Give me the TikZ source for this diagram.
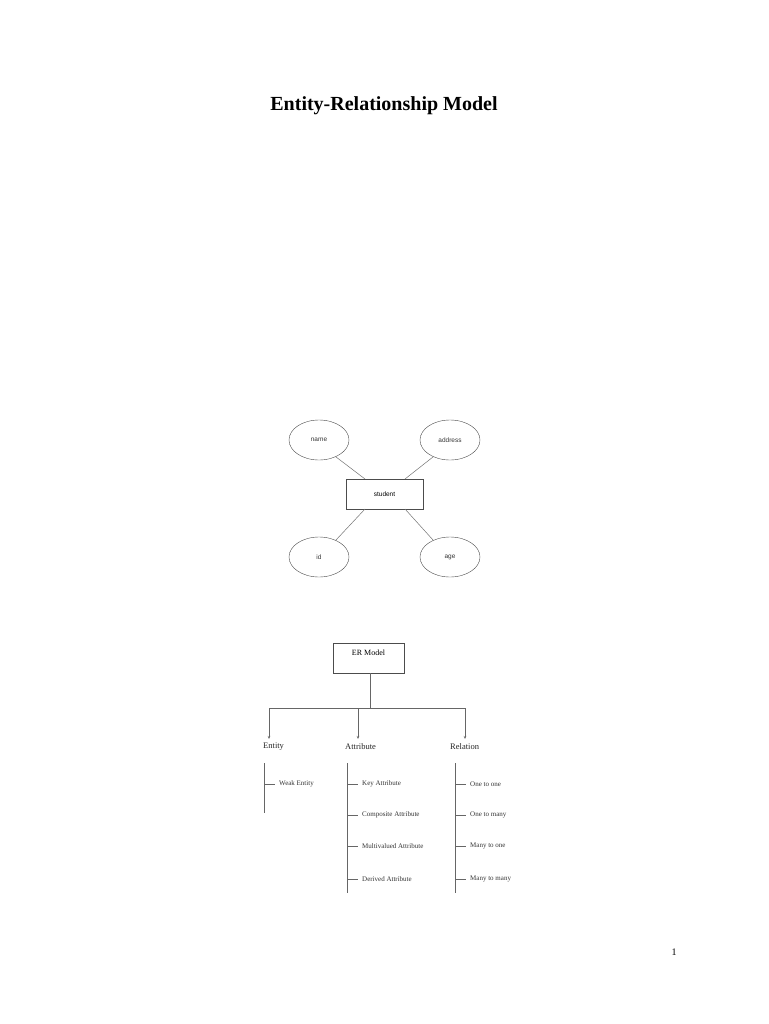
\documentclass[tikz,border=0pt]{standalone}
\usepackage{fontspec}
\setmainfont{Liberation Serif}
\setsansfont{Liberation Sans}
\usetikzlibrary{shapes.geometric,arrows.meta}
\begin{document}
\begin{tikzpicture}[x=1pt,y=-1pt,
  attr/.style={draw=black!70,ellipse,minimum width=60pt,minimum height=40pt,inner sep=0pt,font=\sffamily\fontsize{6.5}{7}\selectfont,text=black!80},
  ent/.style={draw=black!70,minimum width=77pt,minimum height=30pt,inner sep=0pt,font=\sffamily\fontsize{6.5}{7}\selectfont},
  ln/.style={draw=black!55,line width=0.5pt},
  tl/.style={draw=black!60,line width=0.6pt},
  item/.style={anchor=west,inner sep=0pt,font=\fontsize{7}{8}\selectfont,text=black!80},
  head/.style={anchor=west,inner sep=0pt,font=\fontsize{8.5}{10}\selectfont,text=black!85}]
\useasboundingbox (0,0) rectangle (768,1024);
\node (title) at (384,106) {\fontsize{20}{24}\selectfont\bfseries Entity-Relationship Model};
\node (pg) at (674,952) {\fontsize{10}{12}\selectfont 1};
% ER diagram
\node[attr] (name) at (319,440) {name};
\node[attr] (addr) at (450,440) {address};
\node[attr] (id) at (319,557) {id};
\node[attr] (age) at (450,557) {age};
\node[ent] (st) at (384.5,494) {student};
\coordinate (s1) at (365,479);
\coordinate (s2) at (405,479);
\coordinate (s3) at (365,509);
\coordinate (s4) at (405,509);
\draw[ln] (name.-45) -- (s1);
\draw[ln] (addr.-135) -- (s2);
\draw[ln] (id.45) -- (s3);
\draw[ln] (age.135) -- (s4);
% tree
\node[draw=black!70,line width=0.6pt,minimum width=71pt,minimum height=30pt,inner sep=0pt,font=\fontsize{8}{9}\selectfont] (er) at (368.5,658) {};
\node[font=\fontsize{8}{9}\selectfont] at (368.5,653) {ER Model};
\coordinate (j) at (370,708);
\coordinate (jl) at (269,708);
\coordinate (jr) at (465,708);
\coordinate (jm) at (358,708);
\draw[tl] (er.south -| j) -- (j);
\draw[tl] (jl) -- (jr);
\coordinate (al) at (269,739);
\coordinate (am) at (358,739);
\coordinate (ar) at (465,739);
\draw[tl,-{Stealth[length=3pt,width=2.5pt]}] (jl) -- (al);
\draw[tl,-{Stealth[length=3pt,width=2.5pt]}] (jm) -- (am);
\draw[tl,-{Stealth[length=3pt,width=2.5pt]}] (jr) -- (ar);
\node[head] (ent) at (263,747) {Entity};
\node[head] (att) at (345,747) {Attribute};
\node[head] (rel) at (450,747) {Relation};
\coordinate (ve1) at (264,763); \coordinate (ve2) at (264,813);
\coordinate (va1) at (347,763); \coordinate (va2) at (347,893);
\coordinate (vr1) at (455,763); \coordinate (vr2) at (455,893);
\draw[tl] (ve1) -- (ve2);
\draw[tl] (va1) -- (va2);
\draw[tl] (vr1) -- (vr2);
\node[item] (we) at (279,784) {Weak Entity};
\draw[tl] (264,784) -- (275,784);
\foreach \y/\t [count=\i] in {784/Key Attribute,815/Composite Attribute,846/Multivalued Attribute,879/Derived Attribute}{
  \draw[tl] (347,\y) -- (358,\y);
  \node[item] (a\i) at (362,\y) {\t};
}
\foreach \y/\t [count=\i] in {784/One to one,815/One to many,846/Many to one,879/Many to many}{
  \draw[tl] (455,\y) -- (466,\y);
  \node[item] (r\i) at (470,\y) {\t};
}
\end{tikzpicture}
\end{document}
